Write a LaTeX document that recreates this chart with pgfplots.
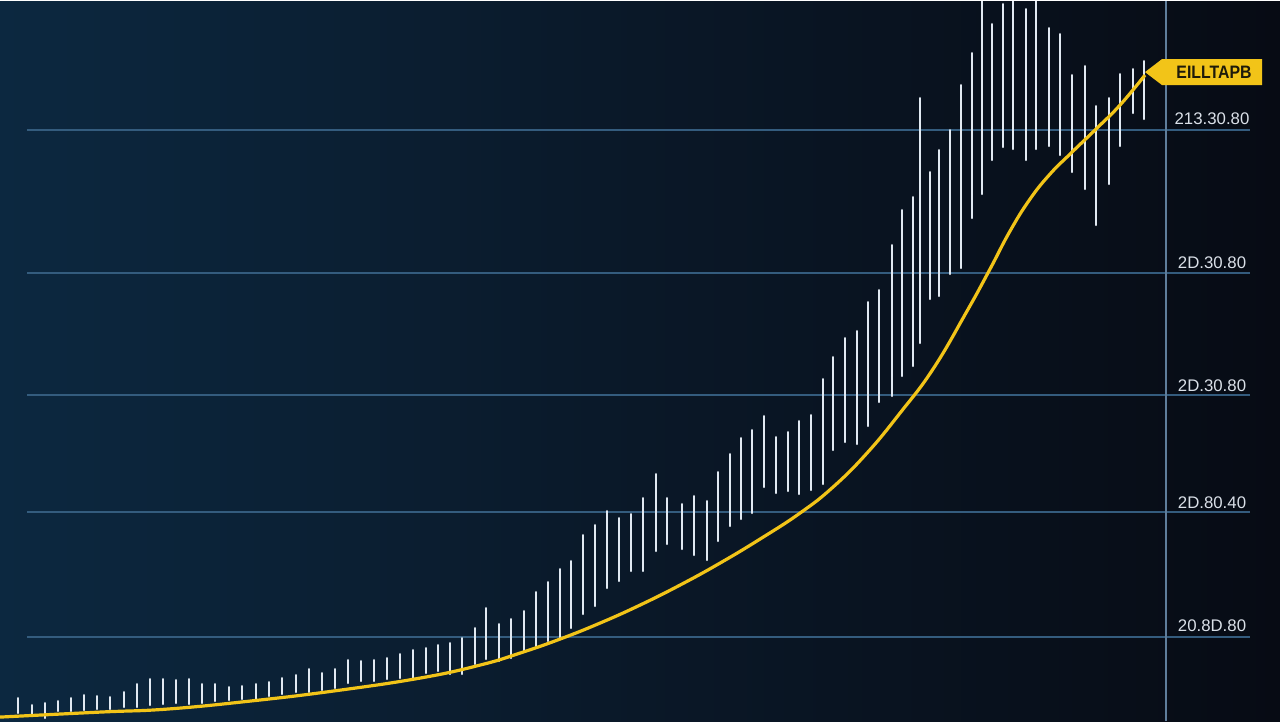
\documentclass[border=0pt]{standalone}
\usepackage{pgfplots}
\pgfplotsset{compat=1.18}
\usepackage{pgfplotstable}
\usepackage{fontspec}
\setmainfont{Liberation Sans}
\definecolor{bgL}{RGB}{12,40,64}
\definecolor{bgM}{RGB}{10,24,40}
\definecolor{bgR}{RGB}{7,11,20}
\definecolor{gridc}{RGB}{52,92,126}
\definecolor{vline}{RGB}{95,125,155}
\definecolor{barc}{RGB}{225,233,242}
\definecolor{yel}{RGB}{242,196,24}
\definecolor{lbl}{RGB}{218,224,232}
\definecolor{flagtxt}{RGB}{30,26,10}

\pgfplotstableread{
x lo hi
18 8 23
32 5 16
45 3 18
58 10 20
71 10 23
84 11 26
97 12 25
110 12 24
124 14 29
137 14 37
150 16 42
163 17 42
176 18 41
189 17 42
202 18 37
215 20 37
229 21 34
242 22 35
256 22 37
269 25 39
282 27 43
296 29 46
309 29 52
322 31 48
335 33 52
348 38 61
361 40 60
374 40 61
387 42 63
400 43 67
413 42 71
426 48 73
438 50 76
450 47 78
462 47 83
475 57 93
486 62 113
499 60 97
511 63 102
524 70 110
536 75 129
548 80 139
560 83 152
571 93 160
583 107 186
595 115 196
607 133 210
619 140 203
631 150 207
643 150 223
656 170 247
667 177 223
682 172 217
694 166 225
707 161 220
718 180 249
730 195 267
741 202 283
752 208 291
764 234 305
776 228 284
788 230 289
799 227 300
811 231 306
823 237 342
833 271 364
845 279 383
857 277 390
868 295 419
879 319 431
892 325 476
902 345 511
913 355 524
920 378 623
930 422 549
939 425 571
950 447 591
961 453 636
972 503 668
982 527 730
992 561 697
1003 574 717
1013 572 730
1026 561 712
1036 572 730
1049 575 693
1060 566 687
1072 549 646
1085 532 655
1096 496 615
1109 537 623
1120 575 647
1133 608 652
1144 602 660
}\bars

\begin{document}
\begin{tikzpicture}
\begin{axis}[
  x=0.5pt, y=0.5pt,
  xmin=0, xmax=1280, ymin=0, ymax=720,
  axis line style={draw=none},
  xtick=\empty, ytick=\empty,
  clip mode=individual,
  axis background/.style={left color=bgL, right color=bgR, middle color=bgM},
]
% grid lines
\draw[gridc, line width=0.9pt] (axis cs:27,591) -- (axis cs:1250,591);
\draw[gridc, line width=0.9pt] (axis cs:27,448) -- (axis cs:1250,448);
\draw[gridc, line width=0.9pt] (axis cs:27,326) -- (axis cs:1250,326);
\draw[gridc, line width=0.9pt] (axis cs:27,209) -- (axis cs:1250,209);
\draw[gridc, line width=0.9pt] (axis cs:27,84) -- (axis cs:1250,84);
% right axis line
\draw[vline, line width=1.1pt] (axis cs:1166,0) -- (axis cs:1166,720);

% high-low bars
\addplot[draw=none, mark=none, forget plot,
  error bars/.cd, y dir=plus, y explicit, error mark=none,
  error bar style={draw=barc, line width=1.15pt, line cap=round}]
  table[x=x, y=lo, y error expr=\thisrow{hi}-\thisrow{lo}] {\bars};

% yellow trend line
\addplot[yel, line width=1.6pt, smooth, tension=0.75, mark=none] coordinates {
(0,4) (100,9) (167,12) (250,20) (333,30) (420,43) (480,56) (520,68)
(560,82) (600,98) (640,116) (680,136) (720,158) (760,182) (800,208)
(833,234) (867,268) (900,308) (933,352) (967,410) (990,452) (1010,490)
(1030,522) (1050,547) (1070,567) (1097,593) (1120,616) (1145,646)
};

% flag label
\fill[yel] (axis cs:1145,649) -- (axis cs:1162,662) -- (axis cs:1262,662) -- (axis cs:1262,636) -- (axis cs:1162,636) -- cycle;
\node[inner sep=0, text=flagtxt, font=\bfseries\fontsize{9}{10}\selectfont] at (axis cs:1214,649) {\scalebox{0.88}[1]{EILLTAPB}};

% right labels
\node[anchor=base, inner sep=0, text=lbl, font=\fontsize{8.4}{9}\selectfont] at (axis cs:1212,597) {213.30.80};
\node[anchor=base, inner sep=0, text=lbl, font=\fontsize{8.4}{9}\selectfont] at (axis cs:1212,453) {2D.30.80};
\node[anchor=base, inner sep=0, text=lbl, font=\fontsize{8.4}{9}\selectfont] at (axis cs:1212,330) {2D.30.80};
\node[anchor=base, inner sep=0, text=lbl, font=\fontsize{8.4}{9}\selectfont] at (axis cs:1212,213) {2D.80.40};
\node[anchor=base, inner sep=0, text=lbl, font=\fontsize{8.4}{9}\selectfont] at (axis cs:1212,90) {20.8D.80};
\end{axis}
\end{tikzpicture}
\end{document}
